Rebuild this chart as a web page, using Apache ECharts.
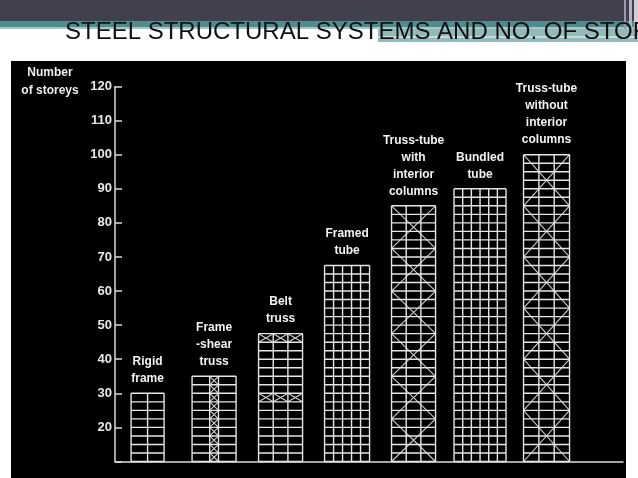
<!DOCTYPE html>
<html>
<head>
<meta charset="utf-8">
<script src="https://cdn.jsdelivr.net/npm/echarts@6/dist/echarts.min.js"></script>
<style>html,body{margin:0;padding:0;background:#fff;}#c{width:638px;height:478px;}</style>
</head>
<body>
<div id="c"></div>
<script>
// ---- data ----
const categories = ['Rigid frame', 'Frame-shear truss', 'Belt truss', 'Framed tube',
  'Truss-tube with interior columns', 'Bundled tube', 'Truss-tube without interior columns'];
const barLabels = ['Rigid\nframe', 'Frame\n-shear\ntruss', 'Belt\ntruss', 'Framed\ntube',
  'Truss-tube\nwith\ninterior\ncolumns', 'Bundled\ntube', 'Truss-tube\nwithout\ninterior\ncolumns'];
const storeys = [30, 35, 47.5, 67.5, 85, 90, 100];
const yMin = 10, yMax = 120, yStep = 10;
const titleText = 'STEEL STRUCTURAL SYSTEMS AND NO. OF STOREYS';
const yAxisTitle = 'Number\nof storeys';

// ---- drawing styles (not data) ----
const FLOOR = 2.5;
const GRID_COLOR = '#e6e6e6';
const BRACE_COLOR = '#cfcfcf';
const FONT = '"Liberation Sans", Arial, sans-serif';
const BAR_STYLE = [
  { w: 33, cols: [0, 0.5, 1] },
  { w: 44, cols: [0, 0.4, 0.6, 1], brace: 'bay', bay: 1 },
  { w: 44, cols: [0, 1/3, 2/3, 1], brace: 'belt', belts: [47.5, 30] },
  { w: 45, cols: [0, 0.2, 0.4, 0.6, 0.8, 1] },
  { w: 44, cols: [0, 1/3, 2/3, 1], brace: 'diamond', seg: 12.5 },
  { w: 52, cols: [0, 1/6, 2/6, 3/6, 4/6, 5/6, 1] },
  { w: 46, cols: [0, 1/3, 2/3, 1], brace: 'diamond', seg: 15 }
];

function renderItem(params, api) {
  const i = api.value(0), v = api.value(1);
  const s = BAR_STYLE[i];
  const base = api.coord([i, yMin]), top = api.coord([i, v]);
  const cx = base[0], w = s.w, x0 = cx - w / 2, x1 = cx + w / 2;
  const yb = base[1], yt = top[1];
  const ch = [];
  const line = (xa, ya, xb, yb2, stroke, lw) => ch.push({
    type: 'line', shape: { x1: xa, y1: ya, x2: xb, y2: yb2 },
    style: { stroke: stroke, lineWidth: lw }
  });
  const yAt = f => api.coord([i, f])[1];
  const X = (xa, xb, fa, fb) => {
    const ya = yAt(fa), yb2 = yAt(fb);
    line(xa, ya, xb, yb2, BRACE_COLOR, 1.1);
    line(xa, yb2, xb, ya, BRACE_COLOR, 1.1);
  };
  if (s.brace === 'bay') {
    const xa = x0 + s.cols[s.bay] * w, xb = x0 + s.cols[s.bay + 1] * w;
    for (let f = yMin; f < v - 1e-6; f += FLOOR) X(xa, xb, f, f + FLOOR);
  } else if (s.brace === 'belt') {
    s.belts.forEach(t => {
      for (let k = 0; k < s.cols.length - 1; k++) X(x0 + s.cols[k] * w, x0 + s.cols[k + 1] * w, t - FLOOR, t);
    });
  } else if (s.brace === 'diamond') {
    for (let f = yMin; f < v - 1e-6; f += s.seg) X(x0, x1, f, Math.min(f + s.seg, v));
  }
  for (let f = yMin; f <= v + 1e-6; f += FLOOR) { const y = yAt(f); line(x0, y, x1, y, GRID_COLOR, 1.4); }
  s.cols.forEach(c => { const x = x0 + c * w; line(x, yb, x, yt, GRID_COLOR, 1.4); });
  ch.push({
    type: 'text',
    style: {
      text: barLabels[i], x: cx, y: yt - 6, align: 'center', verticalAlign: 'bottom',
      fill: '#f2f2f2', font: 'bold 12px ' + FONT, lineHeight: 17
    }
  });
  return { type: 'group', children: ch };
}

const chart = echarts.init(document.getElementById('c'), null, { renderer: 'canvas' });
chart.setOption({
  animation: false,
  backgroundColor: '#ffffff',
  title: {
    text: titleText, left: 65, top: 20, padding: 0,
    textStyle: { color: '#111', fontSize: 24, fontWeight: 'normal', fontFamily: FONT, lineHeight: 24 }
  },
  graphic: [
    { type: 'rect', z: -10, shape: { x: 0, y: 0, width: 638, height: 21 }, style: { fill: '#40404f' } },
    { type: 'rect', z: -10, shape: { x: 0, y: 21, width: 638, height: 6 }, style: { fill: '#4e8c8d' } },
    { type: 'rect', z: -10, shape: { x: 0, y: 27, width: 638, height: 2 }, style: { fill: '#a9c6c7' } },
    { type: 'rect', z: -10, shape: { x: 378, y: 29, width: 260, height: 13 }, style: { fill: '#94b9ba' } },
    { type: 'rect', z: -10, shape: { x: 378, y: 36, width: 260, height: 2 }, style: { fill: '#c6dcdc' } },
    { type: 'rect', z: -10, shape: { x: 624, y: 0, width: 2, height: 29 }, style: { fill: '#9a9aa6' } },
    { type: 'rect', z: -10, shape: { x: 629, y: 0, width: 3, height: 29 }, style: { fill: '#b4b4be' } },
    { type: 'rect', z: -10, shape: { x: 634, y: 0, width: 4, height: 29 }, style: { fill: '#d0d0d6' } },
    { type: 'rect', z: -10, shape: { x: 11, y: 61, width: 615, height: 417 }, style: { fill: '#000000' } },
    {
      type: 'text', z: 10, x: 50, y: 82,
      style: { text: yAxisTitle, align: 'center', verticalAlign: 'middle', fill: '#ededed', font: 'bold 12px ' + FONT, lineHeight: 18 }
    }
  ],
  grid: { left: 115, right: 15, top: 86.5, bottom: 16.5 },
  xAxis: {
    type: 'value', min: -0.49, max: 7.15,
    axisLine: { show: true, onZero: false, lineStyle: { color: '#dcdcdc', width: 1.5 } },
    axisTick: { show: false }, axisLabel: { show: false }, splitLine: { show: false }
  },
  yAxis: {
    type: 'value', min: yMin, max: yMax, interval: yStep,
    axisLine: { show: true, onZero: false, lineStyle: { color: '#dcdcdc', width: 1.5 } },
    axisTick: { show: true, inside: true, length: 7, lineStyle: { color: '#dcdcdc', width: 1.5 } },
    axisLabel: {
      color: '#e8e8e8', fontSize: 13, fontWeight: 'bold', margin: 3, fontFamily: FONT,
      formatter: v => (v === yMin ? '' : String(v))
    },
    splitLine: { show: false }
  },
  series: [{
    type: 'custom', clip: false, renderItem: renderItem,
    data: storeys.map((v, i) => ({ name: categories[i], value: [i, v] }))
  }]
});
</script>
</body>
</html>
